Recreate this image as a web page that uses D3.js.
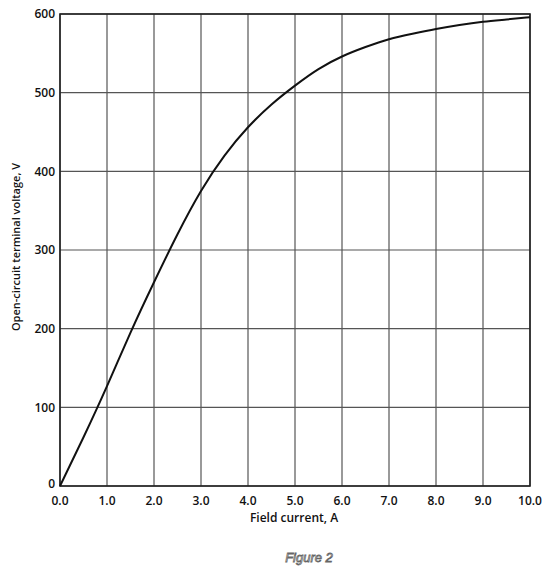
<!DOCTYPE html>
<html>
<head>
<meta charset="utf-8">
<script src="https://cdn.jsdelivr.net/npm/d3@7"></script>
<style>
  body { margin: 0; background: #fff; }
  .lbl { font-family: "Open Sans", "Liberation Sans", sans-serif; }
  .fig { font-family: "Liberation Sans", Arial, sans-serif; }
</style>
</head>
<body>
<div id="chart"></div>
<script>
// field current (A) and open-circuit voltage (V)
const current = [0, 0.5, 1, 1.5, 2, 2.5, 3, 3.5, 4, 4.5, 5, 5.5, 6, 6.5, 7, 7.5, 8, 8.5, 9, 9.5, 10];
const voltage = [0, 62, 127, 195, 259, 320, 375, 420, 456, 485, 509, 530, 546, 558, 568, 575, 581, 586, 590, 593, 596];
const xTicks = [0, 1, 2, 3, 4, 5, 6, 7, 8, 9, 10];
const yTicks = [0, 100, 200, 300, 400, 500, 600];

const W = 547, H = 571;
const margin = { top: 14, right: 17, bottom: 85, left: 60 };
const width = W - margin.left - margin.right,
    height = H - margin.top - margin.bottom;

const svg = d3.select("#chart").append("svg")
    .attr("width", W)
    .attr("height", H);

const g = svg.append("g")
    .attr("transform", `translate(${margin.left},${margin.top})`);

const x = d3.scaleLinear().domain([0, 10]).range([0, width]);
const y = d3.scaleLinear().domain([0, 600]).range([height, 0]);

// grid
g.append("g")
    .selectAll("line")
    .data(xTicks)
    .join("line")
    .attr("x1", d => x(d)).attr("x2", d => x(d))
    .attr("y1", 0).attr("y2", height)
    .attr("stroke", "#555")
    .attr("stroke-width", 1.2);

g.append("g")
    .selectAll("line")
    .data(yTicks)
    .join("line")
    .attr("x1", 0).attr("x2", width)
    .attr("y1", d => y(d)).attr("y2", d => y(d))
    .attr("stroke", "#555")
    .attr("stroke-width", 1.2);

// frame
g.append("rect")
    .attr("width", width).attr("height", height)
    .attr("fill", "none")
    .attr("stroke", "#222")
    .attr("stroke-width", 1.6);

// tick labels
g.append("g")
    .selectAll("text")
    .data(xTicks)
    .join("text")
    .attr("class", "lbl")
    .attr("x", d => x(d))
    .attr("y", height + 19)
    .attr("text-anchor", "middle")
    .attr("font-size", 12)
    .attr("font-weight", 600)
    .attr("fill", "#111")
    .text(d => d.toFixed(1));

g.append("g")
    .selectAll("text")
    .data(yTicks)
    .join("text")
    .attr("class", "lbl")
    .attr("x", -5)
    .attr("y", d => y(d) - (d === 0 ? 2 : 0))
    .attr("dy", "0.35em")
    .attr("text-anchor", "end")
    .attr("font-size", 12)
    .attr("font-weight", 600)
    .attr("fill", "#111")
    .text(d => d);

// curve
const pts = current.map((c, i) => [c, voltage[i]]);
g.append("path")
    .attr("d", d3.line()
        .x(d => x(d[0]))
        .y(d => y(d[1]))
        .curve(d3.curveNatural)(pts))
    .attr("fill", "none")
    .attr("stroke", "#111")
    .attr("stroke-width", 2);

// axis titles
svg.append("text")
    .attr("class", "lbl")
    .attr("x", 294)
    .attr("y", 522)
    .attr("text-anchor", "middle")
    .attr("font-size", 12)
    .attr("font-weight", 600)
    .attr("fill", "#111")
    .text("Field current, A");

svg.append("text")
    .attr("class", "lbl")
    .attr("transform", "translate(20,247) rotate(-90)")
    .attr("text-anchor", "middle")
    .attr("font-size", 11)
    .attr("font-weight", 600)
    .attr("fill", "#111")
    .text("Open-circuit terminal voltage, V");

svg.append("text")
    .attr("class", "fig")
    .attr("x", 309)
    .attr("y", 562)
    .attr("text-anchor", "middle")
    .attr("font-size", 13)
    .attr("font-style", "italic")
    .attr("fill", "#fff")
    .attr("stroke", "#666")
    .attr("stroke-width", 0.8)
    .text("Figure 2");
</script>
</body>
</html>
